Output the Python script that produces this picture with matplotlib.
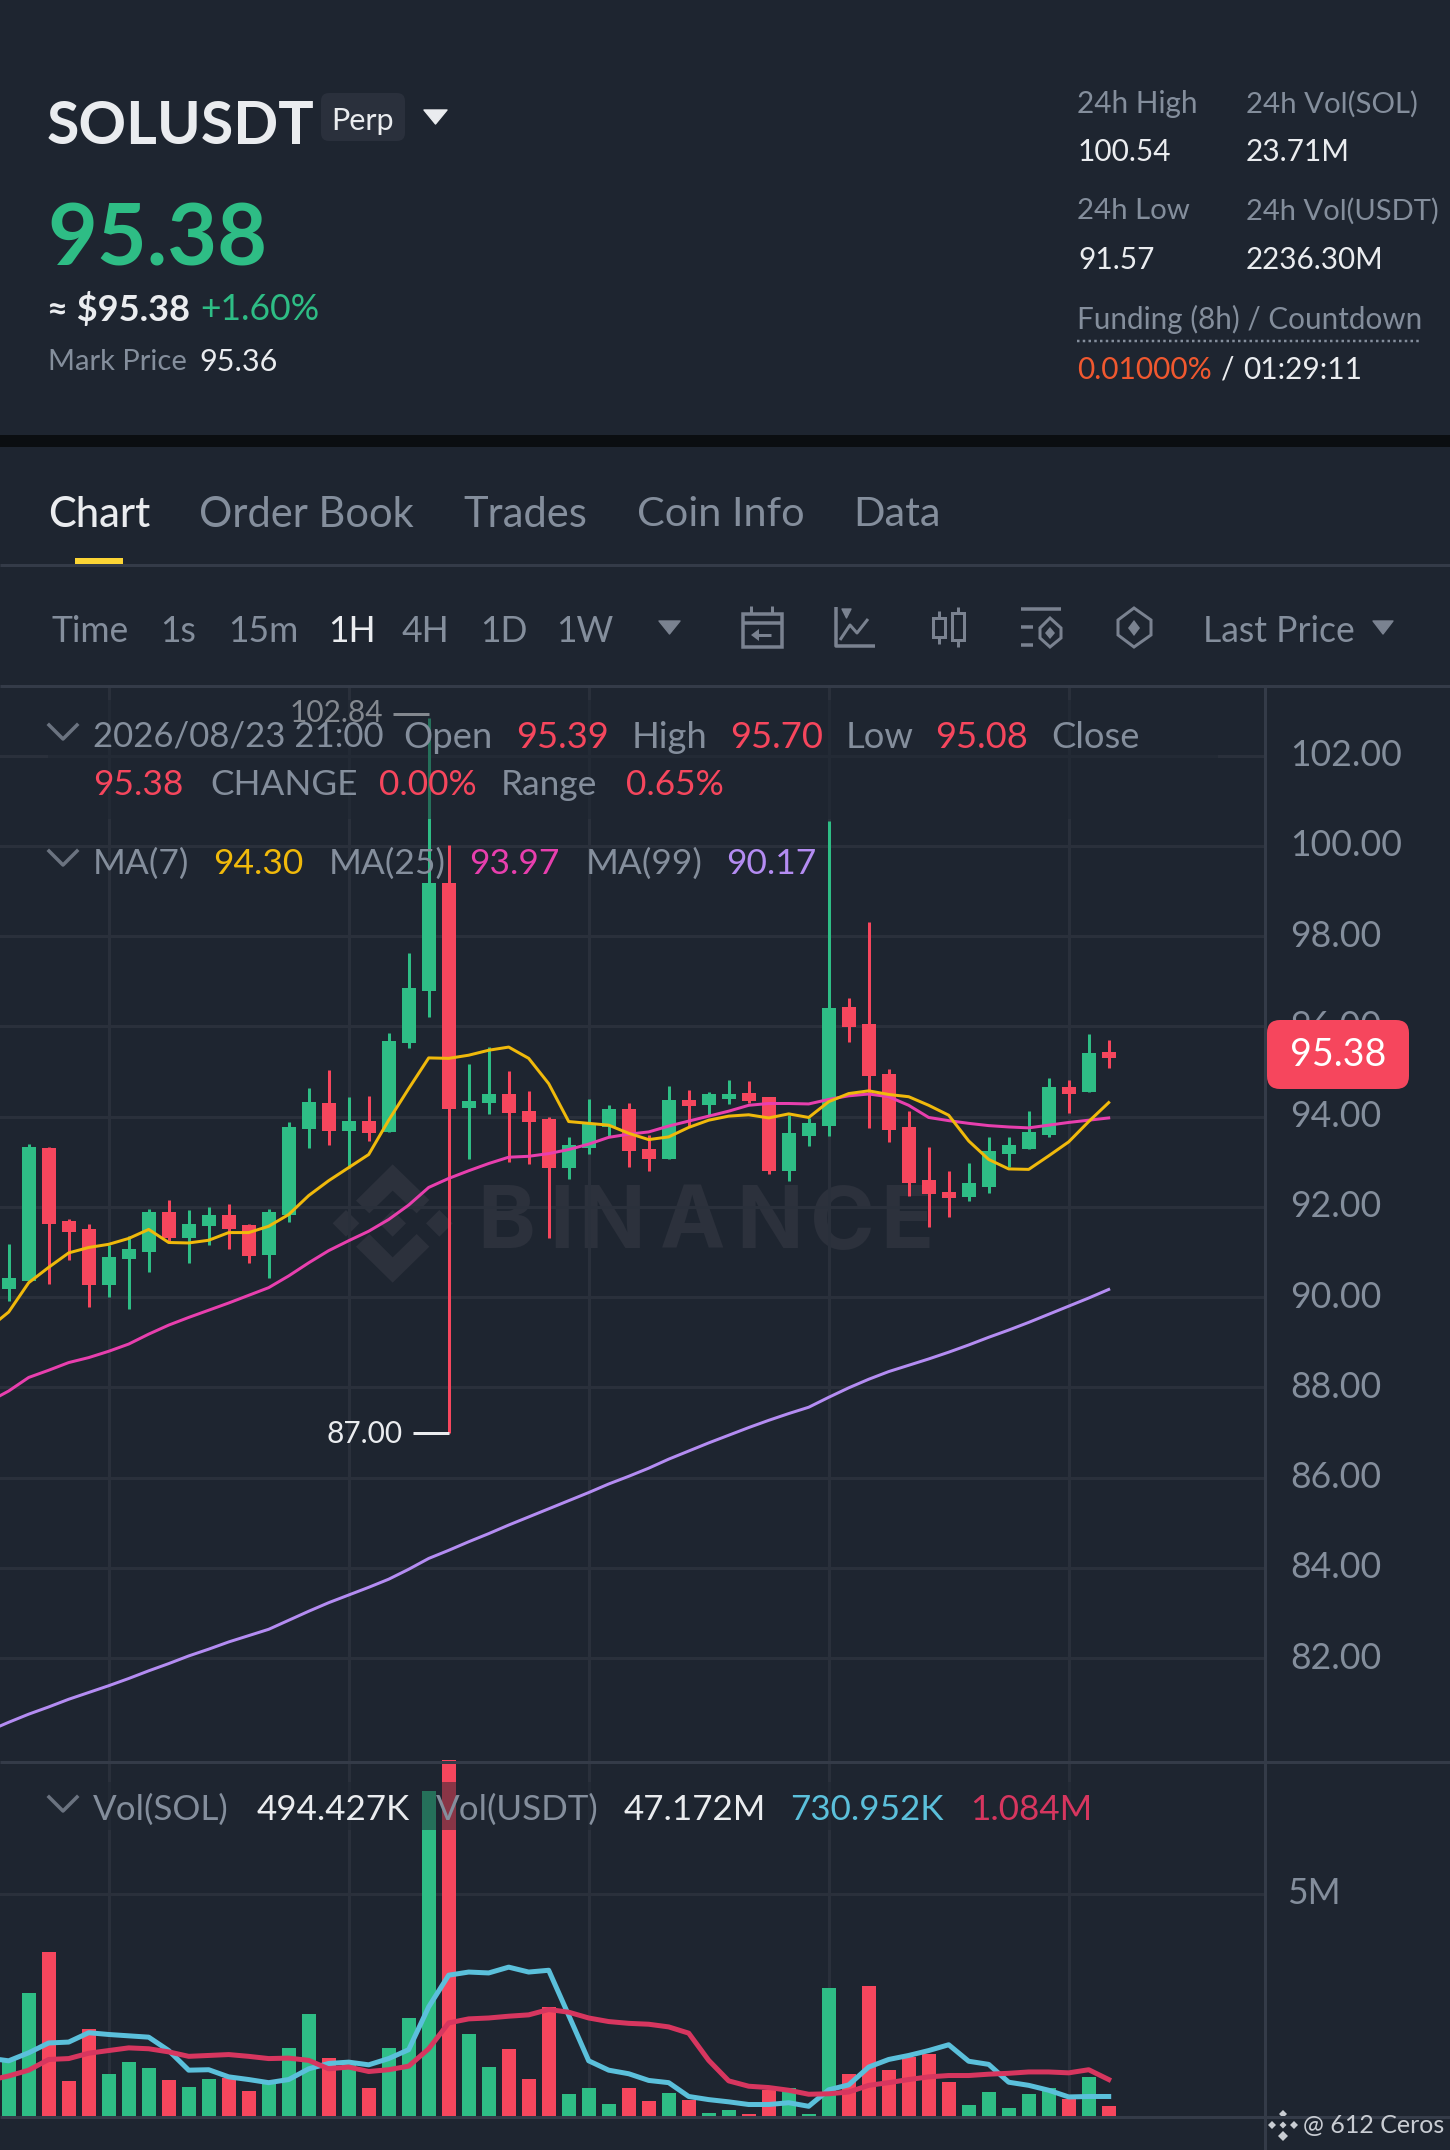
import numpy as np
import matplotlib
matplotlib.use('Agg')
import matplotlib.pyplot as plt
from matplotlib.patches import Rectangle, FancyBboxPatch, Polygon
from matplotlib.transforms import ScaledTranslation

plt.rcParams['font.family'] = ['Lato', 'DejaVu Sans']

# candles
opens = [90.18, 90.36, 93.30, 91.69, 91.50, 90.27, 90.84, 91.01, 91.89, 91.32, 91.57, 91.82, 91.59, 90.93,
         91.83, 93.72, 94.31, 93.68, 93.90, 93.65, 95.63, 96.79, 99.17, 94.18, 94.29, 94.49, 94.13, 93.94,
         92.87, 93.31, 93.77, 94.17, 93.29, 93.05, 94.36, 94.25, 94.38, 94.53, 94.43, 92.80, 93.58, 93.80,
         96.42, 96.06, 94.95, 93.76, 92.59, 92.33, 92.22, 92.45, 93.17, 93.29, 93.60, 94.65, 94.55, 95.43]
highs = [91.17, 93.40, 93.33, 91.74, 91.61, 91.15, 91.36, 91.96, 92.16, 91.92, 91.99, 92.07, 91.61, 91.96,
         93.87, 94.64, 95.04, 94.43, 94.45, 95.85, 97.63, 102.84, 100.02, 95.16, 95.55, 95.02, 94.57, 93.98,
         93.55, 94.38, 94.25, 94.31, 93.59, 94.68, 94.59, 94.55, 94.82, 94.79, 94.43, 94.03, 93.96, 100.55,
         96.62, 98.31, 95.06, 94.13, 93.32, 92.79, 92.98, 93.55, 93.55, 94.12, 94.85, 94.81, 95.84, 95.70]
lows = [89.91, 90.36, 90.28, 90.83, 89.79, 90.01, 89.73, 90.55, 91.23, 90.75, 91.16, 91.07, 90.75, 90.43,
        91.66, 93.31, 93.37, 92.86, 93.45, 93.65, 95.51, 96.20, 87.00, 93.06, 94.05, 93.00, 92.96, 91.30,
        92.61, 93.17, 93.55, 92.89, 92.80, 93.05, 93.77, 94.03, 94.27, 94.31, 92.72, 92.58, 93.35, 93.57,
        95.66, 93.74, 93.43, 92.24, 91.56, 91.78, 92.13, 92.31, 92.89, 93.28, 93.54, 94.08, 94.55, 95.08]
closes = [90.43, 93.32, 91.62, 91.44, 90.27, 90.89, 91.06, 91.88, 91.32, 91.62, 91.82, 91.52, 90.92, 91.88,
          93.78, 94.32, 93.68, 93.90, 93.64, 95.68, 96.84, 99.17, 94.17, 94.34, 94.49, 94.07, 93.88, 92.85,
          93.36, 93.85, 94.17, 93.23, 93.05, 94.36, 94.23, 94.50, 94.51, 94.35, 92.80, 93.64, 93.85, 96.41,
          95.99, 94.89, 93.70, 92.53, 92.28, 92.20, 92.52, 93.23, 93.36, 93.66, 94.65, 94.51, 95.41, 95.30]

# moving averages start one candle left of the frame
ma7 = [89.31, 89.67, 90.32, 90.66, 90.98, 91.10, 91.17, 91.30, 91.50, 91.21, 91.20, 91.26, 91.43, 91.43, 91.57,
       91.83, 92.25, 92.58, 92.87, 93.16, 93.92, 94.62, 95.30, 95.29, 95.36, 95.47, 95.54, 95.29, 94.73,
       93.89, 93.85, 93.81, 93.63, 93.49, 93.55, 93.76, 93.92, 94.01, 94.04, 93.97, 94.06, 93.98, 94.33,
       94.51, 94.57, 94.49, 94.44, 94.25, 94.03, 93.46, 93.05, 92.84, 92.83, 93.13, 93.44, 93.89, 94.31]
ma25 = [87.68, 87.92, 88.22, 88.38, 88.55, 88.66, 88.80, 88.96, 89.18, 89.38, 89.55, 89.71, 89.87, 90.04, 90.21,
        90.47, 90.76, 91.03, 91.25, 91.46, 91.72, 92.04, 92.43, 92.63, 92.80, 92.96, 93.10, 93.12, 93.18,
        93.27, 93.39, 93.54, 93.61, 93.66, 93.79, 93.90, 94.01, 94.12, 94.25, 94.29, 94.29, 94.28, 94.38,
        94.46, 94.50, 94.44, 94.25, 93.98, 93.91, 93.85, 93.80, 93.77, 93.75, 93.81, 93.87, 93.92, 93.97]
ma99 = [80.39, 80.58, 80.76, 80.92, 81.09, 81.24, 81.39, 81.55, 81.72, 81.88, 82.05, 82.20, 82.36, 82.50, 82.64,
        82.84, 83.04, 83.23, 83.40, 83.57, 83.75, 83.97, 84.21, 84.39, 84.58, 84.76, 84.95, 85.13, 85.31,
        85.49, 85.67, 85.86, 86.03, 86.21, 86.41, 86.59, 86.77, 86.94, 87.11, 87.27, 87.42, 87.56, 87.78,
        87.99, 88.18, 88.35, 88.49, 88.63, 88.78, 88.94, 89.11, 89.27, 89.44, 89.62, 89.80, 89.98, 90.17]

# volume in millions
volumes = [1.27, 2.77, 3.71, 0.80, 1.98, 0.97, 1.23, 1.10, 0.82, 0.67, 0.86, 0.88, 0.58, 0.75,
           1.55, 2.32, 1.33, 1.23, 0.65, 1.55, 2.23, 7.32, 8.01, 1.85, 1.13, 1.52, 0.86, 2.47,
           0.52, 0.64, 0.30, 0.66, 0.35, 0.54, 0.37, 0.09, 0.16, 0.07, 0.60, 0.64, 0.07, 2.90,
           0.96, 2.94, 1.05, 1.35, 1.42, 0.78, 0.28, 0.55, 0.20, 0.52, 0.65, 0.41, 0.90, 0.25]
vol_ma1 = [1.32, 1.26, 1.44, 1.66, 1.68, 1.89, 1.85, 1.82, 1.79, 1.49, 1.05, 1.06, 0.90, 0.84, 0.77,
           0.84, 1.08, 1.20, 1.23, 1.17, 1.31, 1.51, 2.47, 3.18, 3.25, 3.23, 3.36, 3.25, 3.29,
           2.28, 1.26, 1.05, 0.97, 0.82, 0.77, 0.46, 0.39, 0.34, 0.28, 0.28, 0.32, 0.24, 0.61,
           0.72, 1.12, 1.29, 1.38, 1.49, 1.62, 1.25, 1.18, 0.78, 0.71, 0.60, 0.45, 0.46, 0.46]
vol_ma2 = [0.82, 0.92, 1.05, 1.29, 1.31, 1.43, 1.49, 1.55, 1.53, 1.46, 1.36, 1.38, 1.40, 1.36, 1.31,
           1.32, 1.27, 1.08, 1.12, 1.02, 1.06, 1.14, 1.53, 2.11, 2.20, 2.22, 2.26, 2.29, 2.41,
           2.35, 2.22, 2.14, 2.10, 2.08, 2.02, 1.88, 1.27, 0.81, 0.69, 0.66, 0.60, 0.51, 0.52,
           0.56, 0.71, 0.77, 0.84, 0.90, 0.93, 0.93, 0.96, 0.98, 1.01, 1.01, 0.99, 1.06, 0.84]

price_ticks = [82, 84, 86, 88, 90, 92, 94, 96, 98, 100, 102]
time_ticks = [5, 17, 29, 41, 53]

BG = '#1E2530'
GRID = '#2A303B'
SEP = '#343B48'
GREY = '#848E9C'
WHITE = '#EAECEF'
GREEN = '#2EBD85'
RED = '#F6465D'
YELLOW = '#F0B90B'
PINK = '#E83FAE'
PURPLE = '#B48CF2'
BLUE = '#5BC0DB'
CRIMSON = '#D7365F'
MARK = '#2C313C'
px = 0.72  # one pixel in points at dpi 100

W, H = 1450, 2150
fig = plt.figure(figsize=(W / 100, H / 100), dpi=100, facecolor=BG)


def pane(top, bottom, left=0, right=W, z=1):
    a = fig.add_axes([left / W, 1 - bottom / H, (right - left) / W, (bottom - top) / H], zorder=z)
    a.patch.set_alpha(0)
    return a


def canvas(z):
    a = pane(0, H, z=z)
    a.set_xlim(0, W)
    a.set_ylim(H, 0)
    a.axis('off')
    return a


under = canvas(0)
top = canvas(3)

# Binance watermark sits under the candles
for pts in ([(1178, 103), (1068, 212), (1108, 250), (1178, 182), (1250, 250), (1288, 210)],
            [(1178, 458), (1068, 350), (1108, 312), (1178, 382), (1250, 312), (1288, 350)],
            [(998, 280), (1038, 240), (1078, 280), (1038, 320)],
            [(1278, 280), (1318, 240), (1358, 280), (1318, 320)],
            [(1138, 280), (1178, 240), (1218, 280), (1178, 320)]):
    under.add_patch(Polygon([(p[0] / 3, 1130 + p[1] / 3) for p in pts], closed=True, fc=MARK, ec='none'))
for x, ch in zip([477, 549, 578, 660, 736, 810, 880], 'BINANCE'):
    under.text(x, 1226, ch, color=MARK, fontsize=63, fontweight='bold', family='Inter', va='center', ha='left')

n = len(opens)
idx = np.arange(n)
ma_x = np.arange(-1, n)
up = np.array(closes) >= np.array(opens)
colors = [GREEN if u else RED for u in up]
xlim = (-8.7 / 20, (1265 - 8.7) / 20)

# price pane
ax = pane(686, 1762, right=1265, z=1)
ax.set_xlim(*xlim)
ax.set_ylim(79.70, 103.54)
ax.grid(True, color=GRID, lw=3 * px)
ax.set_axisbelow(True)
ax.set_xticks(time_ticks)
ax.set_yticks(price_ticks)
ax.set_yticklabels(['%.2f' % p for p in price_ticks], color=GREY, fontsize=25.6)
ax.yaxis.tick_right()
ax.tick_params(axis='y', length=0, pad=18)
ax.tick_params(axis='x', length=0, labelbottom=False)
for s in ax.spines.values():
    s.set_visible(False)
for t in ax.yaxis.get_major_ticks():
    t.label2.set_transform(t.label2.get_transform() + ScaledTranslation(0, 0.03, fig.dpi_scale_trans))

ax.vlines(idx, lows, highs, colors=colors, lw=3 * px, zorder=3)
ax.bar(idx, np.array(closes) - np.array(opens), bottom=opens, width=0.7, color=colors, zorder=3)
ax.plot(ma_x, ma99, color=PURPLE, lw=3 * px, zorder=4)
ax.plot(ma_x, ma25, color=PINK, lw=3 * px, zorder=4)
ax.plot(ma_x, ma7, color=YELLOW, lw=3 * px, zorder=4)

# high / low tags
hi = int(np.argmax(highs))
lo = int(np.argmin(lows))
ax.plot([hi - 1.8, hi], [highs[hi] + 0.08, highs[hi] + 0.08], color=WHITE, lw=3 * px, zorder=4, solid_capstyle='butt')
ax.plot([lo - 1.8, lo], [lows[lo], lows[lo]], color=WHITE, lw=3 * px, zorder=4, solid_capstyle='butt')
ax.annotate('%.2f' % highs[hi], (hi - 1.8, highs[hi] + 0.08), xytext=(-7, 0.5), textcoords='offset points',
            ha='right', va='center', color=WHITE, fontsize=21.5, zorder=4)
ax.annotate('%.2f' % lows[lo], (lo - 1.8, lows[lo]), xytext=(-7, -1), textcoords='offset points',
            ha='right', va='center', color=WHITE, fontsize=21.5, zorder=4)

# volume pane
vol = pane(1762, 2117, right=1265, z=1)
vol.set_xlim(*xlim)
vol.set_ylim(0, 355 / 44.6)
vol.grid(True, color=GRID, lw=3 * px)
vol.set_axisbelow(True)
vol.set_xticks(time_ticks)
vol.set_yticks([5])
vol.set_yticklabels(['5M'], color=GREY, fontsize=25.6)
vol.yaxis.tick_right()
vol.tick_params(axis='y', length=0, pad=16)
vol.tick_params(axis='x', length=0, labelbottom=False)
for s in vol.spines.values():
    s.set_visible(False)
for t in vol.yaxis.get_major_ticks():
    t.label2.set_transform(t.label2.get_transform() + ScaledTranslation(0, 0.03, fig.dpi_scale_trans))
vol.bar(idx, volumes, width=0.7, color=colors, zorder=3, clip_on=False)
vol.plot(ma_x, vol_ma1, color=BLUE, lw=5 * px, zorder=4)
vol.plot(ma_x, vol_ma2, color=CRIMSON, lw=5 * px, zorder=5)


def T(x, y, s, c=GREY, size=24, **kw):
    kw.setdefault('va', 'center')
    kw.setdefault('ha', 'left')
    top.text(x, y + 5, s, color=c, fontsize=size, **kw)


def chevron(x, y):
    top.plot([x, x + 14, x + 28], [y, y + 14, y], color='#6B7380', lw=3.5 * px)


def tri(x0, x1, y0, y1, c):
    top.add_patch(Polygon([(x0, y0), (x1, y0), ((x0 + x1) / 2, y1)], closed=True, fc=c, ec=c, lw=1, joinstyle='round'))


def line(xs, ys, c=GREY, w=3.2):
    top.plot(xs, ys, color=c, lw=w * px, solid_capstyle='butt')


# panel separators and price axis line
top.add_patch(Rectangle((0, 435), W, 12, fc='#0B0E11', ec='none'))
for y in (565, 686, 1762, 2117):
    line([0, W], [y, y], SEP, 3)
line([1265, 1265], [686, H], SEP, 3)

# translucent strip behind the ohlc legend
top.add_patch(Rectangle((48, 700), 1170, 119, fc=BG, ec='none', alpha=0.5))
top.add_patch(Rectangle((48, 1782), 1050, 48, fc=BG, ec='none', alpha=0.5))

# header
T(47, 122, 'SOLUSDT', WHITE, 42.6, fontweight='bold')
top.add_patch(FancyBboxPatch((327, 99), 72, 36, boxstyle='round,pad=6,rounding_size=8', fc='#2A303C', ec='none'))
T(331, 116, 'Perp', WHITE, 22)
tri(424, 447, 110, 124, WHITE)
T(47, 236, '95.38', GREEN, 62, fontweight='bold')
T(47, 304, '≈ $95.38', WHITE, 26, fontweight='bold')
T(200, 304, '+1.60%', GREEN, 25.6)
T(48, 357, 'Mark Price', GREY, 21)
T(199, 357, '95.36', WHITE, 22)

T(1077, 99, '24h High', GREY, 21.4)
T(1246, 99, '24h Vol(SOL)', GREY, 21.2)
T(1078, 147, '100.54', WHITE, 21.5)
T(1246, 147, '23.71M', WHITE, 21.5)
T(1077, 206, '24h Low', GREY, 21.2)
T(1246, 206, '24h Vol(USDT)', GREY, 21)
T(1078, 255, '91.57', WHITE, 21.5)
T(1246, 255, '2236.30M', WHITE, 21.3)
T(1077, 314, 'Funding (8h) / Countdown', GREY, 21.3)
top.plot([1077, 1422], [341, 341], color=GREY, lw=2.5 * px, linestyle=(0, (1, 1.3)))
T(1077, 365, '0.01000%', '#F0582F', 21.5)
T(1221, 365, '/', WHITE, 21.5)
T(1243, 365, '01:29:11', WHITE, 21.5)

# tabs
T(48, 510, 'Chart', WHITE, 30, fontweight='medium')
T(199, 510, 'Order Book', GREY, 30)
T(463, 510, 'Trades', GREY, 30)
T(637, 510, 'Coin Info', GREY, 29.8)
T(853, 510, 'Data', GREY, 29.8)
top.add_patch(Rectangle((75, 558), 48, 9, fc='#FCD535', ec='none'))

# interval bar
for x, s, c in [(52, 'Time', GREY), (160, '1s', GREY), (228, '15m', GREY), (328, '1H', WHITE),
                (402, '4H', GREY), (480, '1D', GREY), (556, '1W', GREY), (1203, 'Last Price', GREY)]:
    T(x, 627, s, c, 25.6)
tri(659, 680, 621, 634, '#7A8290')
tri(1373, 1393, 621, 634, '#7A8290')

# toolbar icons
ic = '#7A8290'
top.add_patch(Rectangle((743, 614), 39, 33, fc='none', ec=ic, lw=3.5 * px))
line([743, 782], [623, 623], ic, 3.5)
line([751, 751], [606, 614], ic, 3)
line([772, 772], [606, 614], ic, 3)
line([754, 771], [635, 635], ic, 3)
top.add_patch(Polygon([(751, 635), (759, 629), (759, 641)], closed=True, fc=ic, ec='none'))
line([836, 836, 875], [607, 646, 646], ic, 3.5)
line([840, 850, 857, 868], [640, 625, 633, 619], ic, 3)
tri(842, 851, 609, 618, ic)
top.add_patch(Rectangle((933, 618), 12, 19, fc='none', ec=ic, lw=3 * px))
top.add_patch(Rectangle((952, 613), 12, 27, fc='none', ec=ic, lw=3 * px))
line([939, 939], [611, 618], ic, 3)
line([939, 939], [637, 644], ic, 3)
line([958, 958], [607, 613], ic, 3)
line([958, 958], [640, 647], ic, 3)
line([1021, 1061], [609, 609], ic, 3.5)
line([1021, 1033], [627, 627], ic, 3.5)
line([1021, 1033], [645, 645], ic, 3.5)
top.add_patch(Polygon([(1050, 618), (1061, 628), (1061, 638), (1050, 647), (1040, 638), (1040, 628)], closed=True, fc='none', ec=ic, lw=3 * px))
top.add_patch(Polygon([(1050, 627), (1055, 633), (1050, 639), (1045, 633)], closed=True, fc=ic, ec='none'))
top.add_patch(Polygon([(1134, 608), (1151, 620), (1151, 635), (1134, 647), (1118, 635), (1118, 620)], closed=True, fc='none', ec=ic, lw=3 * px))
top.add_patch(Polygon([(1134, 620), (1140, 628), (1134, 636), (1128, 628)], closed=True, fc=ic, ec='none'))

# legend rows
chevron(49, 725)
T(93, 732, '2026/08/23 21:00', GREY, 25)
for x, s, c in [(403, 'Open', GREY), (516, '95.39', RED), (632, 'High', GREY),
                (730, '95.70', RED), (846, 'Low', GREY), (935, '95.08', RED), (1051, 'Close', GREY)]:
    T(x, 732, s, c, 26.2)
for x, s, c in [(93, '95.38', RED), (210, 'CHANGE', GREY), (379, '0.00%', RED), (501, 'Range', GREY), (626, '0.65%', RED)]:
    T(x, 780, s, c, 25.4)
chevron(49, 851)
for x, s, c in [(93, 'MA(7)', GREY), (213, '94.30', YELLOW), (329, 'MA(25)', GREY), (469, '93.97', PINK),
                (586, 'MA(99)', GREY), (726, '90.17', PURPLE)]:
    T(x, 859, s, c, 25.5)
chevron(49, 1797)
for x, s, c in [(93, 'Vol(SOL)', GREY), (257, '494.427K', WHITE), (436, 'Vol(USDT)', GREY), (624, '47.172M', WHITE),
                (790, '730.952K', BLUE), (970, '1.084M', CRIMSON)]:
    T(x, 1805, s, c, 25.2)

# last price badge
top.add_patch(FancyBboxPatch((1277, 1030), 122, 49, boxstyle='round,pad=10,rounding_size=13', fc=RED, ec='none'))
T(1338, 1050, '95.38', 'white', 27, ha='center')

# footer mark
for cx, cy, r in [(1272, 2125, 4), (1294, 2125, 4), (1283, 2125, 3.5), (1283, 2114, 4), (1283, 2136, 5)]:
    top.add_patch(Polygon([(cx - r, cy), (cx, cy - r), (cx + r, cy), (cx, cy + r)], closed=True, fc='#C9CDD3', ec='none'))
T(1303, 2120, '@ 612 Ceros', '#C9CDD3', 18)

fig.savefig('out.png', dpi=100, facecolor=BG)
